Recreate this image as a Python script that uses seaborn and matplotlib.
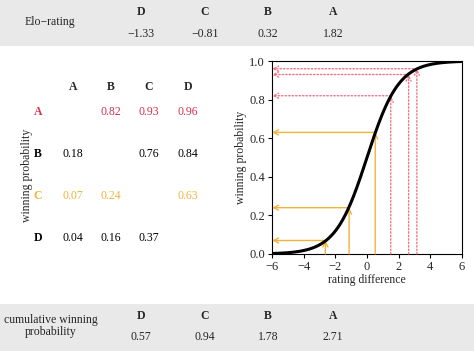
import numpy as np
import pandas as pd
import matplotlib
matplotlib.use("Agg")
import matplotlib.pyplot as plt
import seaborn as sns
from matplotlib.patches import Rectangle

sns.set_theme(style="white")
plt.rcParams['font.family'] = ['Liberation Serif', 'DejaVu Serif']
plt.rcParams['mathtext.fontset'] = 'stix'

# ---- data ----
players_order = ["D", "C", "B", "A"]
elo_ratings = ["\u22121.33", "\u22120.81", "0.32", "1.82"]
cum_win_prob = ["0.57", "0.94", "1.78", "2.71"]

matrix_labels = ["A", "B", "C", "D"]
matrix_values = [
    ["", "0.82", "0.93", "0.96"],
    ["0.18", "", "0.76", "0.84"],
    ["0.07", "0.24", "", "0.63"],
    ["0.04", "0.16", "0.37", ""],
]

# highlighted pairs on the curve: rating differences and probabilities
red_diff = [1.50, 2.63, 3.15]
red_prob = [0.82, 0.93, 0.96]
yellow_diff = [-2.63, -1.13, 0.52]
yellow_prob = [0.07, 0.24, 0.63]

RED = "#d8304c"
RED_LINE = "#f07488"
YEL = "#f0b43c"

W, H = 474, 351
fig = plt.figure(figsize=(W / 100, H / 100), dpi=100)
fig.patch.set_facecolor("white")

def fx(px):
    return px / W

def fy(py):
    return 1 - py / H

# gray bands
fig.patches.append(Rectangle((0, fy(46)), 1, 46 / H, transform=fig.transFigure,
                             facecolor="#e9e9e9", edgecolor="none", zorder=0))
fig.patches.append(Rectangle((0, 0), 1, (H - 304) / H, transform=fig.transFigure,
                             facecolor="#e9e9e9", edgecolor="none", zorder=0))

fs = 8.5
col_x = [141, 205, 268, 333]
fig.text(fx(50), fy(22), "Elo\u2212rating", ha="center", va="center", fontsize=fs)
for x, lab, v in zip(col_x, players_order, elo_ratings):
    fig.text(fx(x), fy(12), lab, ha="center", va="center", fontsize=fs, fontweight="bold")
    fig.text(fx(x), fy(34), v, ha="center", va="center", fontsize=fs)

fig.text(fx(51), fy(320), "cumulative winning", ha="center", va="center", fontsize=fs)
fig.text(fx(51), fy(332), "probability", ha="center", va="center", fontsize=fs)
for x, lab, v in zip(col_x, players_order, cum_win_prob):
    fig.text(fx(x), fy(316), lab, ha="center", va="center", fontsize=fs, fontweight="bold")
    fig.text(fx(x), fy(337), v, ha="center", va="center", fontsize=fs)

# matrix
mcols = [73, 111, 149, 188]
mrows = [112, 154, 196, 238]
row_colors = [RED, "black", YEL, "black"]
for x, lab in zip(mcols, matrix_labels):
    fig.text(fx(x), fy(87), lab, ha="center", va="center", fontsize=fs, fontweight="bold")
for i, (y, lab) in enumerate(zip(mrows, matrix_labels)):
    c = row_colors[i]
    fig.text(fx(38), fy(y), lab, ha="center", va="center", fontsize=fs,
             fontweight="bold", color=c)
    for j, x in enumerate(mcols):
        if matrix_values[i][j]:
            fig.text(fx(x), fy(y), matrix_values[i][j], ha="center", va="center",
                     fontsize=fs, color=c)
fig.text(fx(27), fy(175), "winning probability", ha="center", va="center",
         fontsize=fs, rotation=90)

# curve axes
ax = fig.add_axes([fx(272), fy(254), (462 - 272) / W, (254 - 61) / H])
xs = np.linspace(-6, 6, 400)
df = pd.DataFrame({"x": xs, "p": 1 / (1 + np.exp(-xs))})
sns.lineplot(data=df, x="x", y="p", ax=ax, color="black", lw=2.2, zorder=5)

def draw_arrows(diffs, probs, color, ls):
    for d, p in zip(diffs, probs):
        ax.annotate("", xy=(d, p), xytext=(d, 0),
                    arrowprops=dict(arrowstyle="->", color=color, lw=1, ls=ls,
                                    shrinkA=0, shrinkB=0, mutation_scale=9))
        ax.annotate("", xy=(-6, p), xytext=(d, p),
                    arrowprops=dict(arrowstyle="->", color=color, lw=1, ls=ls,
                                    shrinkA=0, shrinkB=0, mutation_scale=9))

draw_arrows(red_diff, red_prob, RED_LINE, (0, (1, 1.5)))
draw_arrows(yellow_diff, yellow_prob, YEL, "-")

ax.set_xlim(-6, 6)
ax.set_ylim(0, 1)
ax.set_xticks(range(-6, 7, 2))
ax.set_xticklabels(["\u22126", "\u22124", "\u22122", "0", "2", "4", "6"])
ax.set_yticks(np.arange(0, 1.01, 0.2))
ax.set_yticklabels([f"{v:.1f}" for v in np.arange(0, 1.01, 0.2)])
ax.set_xlabel("rating difference", fontsize=fs, labelpad=1)
ax.set_ylabel("winning probability", fontsize=fs, labelpad=2)
ax.tick_params(axis="both", direction="out", length=3, width=0.8, labelsize=9,
               bottom=True, left=True, pad=2, color="black")
for s in ax.spines.values():
    s.set_color("black")
    s.set_linewidth(0.8)
ax.set_facecolor("white")

fig.savefig("out.png", dpi=100, facecolor="white")
